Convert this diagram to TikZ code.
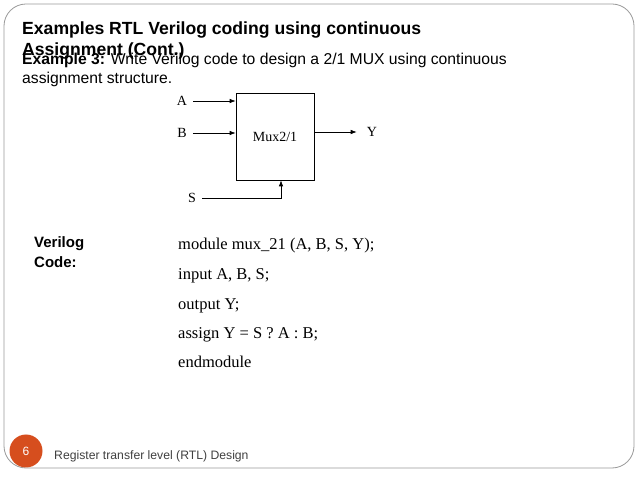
\documentclass[tikz,border=0pt]{standalone}
\usepackage{fontspec}
\setmainfont{Liberation Sans}
\newfontfamily\serifx{Liberation Serif}
\usetikzlibrary{arrows.meta}
\begin{document}
\begin{tikzpicture}[x=1pt,y=-1pt,
  sig/.style={draw,line width=0.7pt,-{Latex[length=6pt,width=4.5pt]}},
  lbl/.style={font=\serifx\fontsize{14}{16}\selectfont,inner sep=0pt},
  code/.style={anchor=west,font=\serifx\fontsize{16.5}{19}\selectfont,inner sep=0pt},
  txt/.style={anchor=west,inner sep=0pt}]
\useasboundingbox (0,0) rectangle (638,478);
\draw[gray!80,line width=0.8pt,rounded corners=22pt] (4,4) rectangle (634,468);
\node[txt,font=\bfseries\fontsize{17.6}{20}\selectfont] (t1) at (22,30) {Examples RTL Verilog coding using continuous};
\node[txt,font=\bfseries\fontsize{17.6}{20}\selectfont] (t2) at (22,51) {Assignment (Cont.)};
\node[txt,font=\fontsize{15.7}{17}\selectfont] (e1) at (22,60) {\textbf{Example 3:} Write Verilog code to design a 2/1 MUX using continuous};
\node[txt,font=\fontsize{15.7}{17}\selectfont] (e2) at (22,79) {assignment structure.};
\node[draw,line width=0.7pt,minimum width=78pt,minimum height=87pt,inner sep=0pt,font=\serifx\fontsize{14}{15}\selectfont] (mux) at (275,136.5) {Mux2/1};
\node[lbl] (A) at (182,101) {A};
\node[lbl] (B) at (182,133) {B};
\node[lbl] (Y) at (372,132) {Y};
\node[lbl] (S) at (192,198) {S};
\draw[sig] (A.east)+(6,0) -- (A.east -| mux.west);
\draw[sig] (B.east)+(6,0) -- (B.east -| mux.west);
\coordinate (yo) at (mux.east |- Y.west);
\draw[sig] (yo) -- ([xshift=-10pt]Y.west);
\coordinate (sc) at (281,198);
\draw[sig] ([xshift=6pt]S.east) -- (sc) -- (sc |- mux.south);
\node[txt,font=\bfseries\fontsize{15}{20}\selectfont,align=left,anchor=north west] (vc) at (34,236) {Verilog\\Code:};
\node[code] (c1) at (178,246) {module mux\_21 (A, B, S, Y);};
\node[code] (c2) at (178,276) {input A, B, S;};
\node[code] (c3) at (178,306) {output Y;};
\node[code] (c4) at (178,335) {assign Y = S ? A : B;};
\node[code] (c5) at (178,362) {endmodule};
\node[circle,fill={rgb,255:red,214;green,78;blue,30},minimum size=33pt,inner sep=0pt,text=white,font=\fontsize{12}{14}\selectfont] (pg) at (26,451) {6};
\node[txt,text=black!75,font=\fontsize{12.2}{14}\selectfont] (ft) at (54,456) {Register transfer level (RTL) Design};
\end{tikzpicture}
\end{document}
